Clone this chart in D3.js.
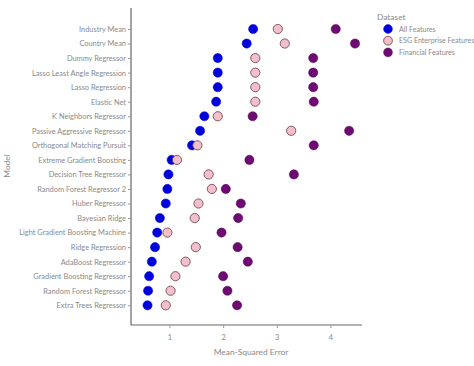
<!DOCTYPE html>
<html><head><meta charset="utf-8">
<script src="https://cdn.jsdelivr.net/npm/d3@7"></script>
<style>body{margin:0;background:#fff;} text{font-family:Lato, sans-serif;}</style>
</head><body><svg id="c" width="474" height="366"></svg>
<script>
const models = ["Industry Mean","Country Mean","Dummy Regressor","Lasso Least Angle Regression","Lasso Regression","Elastic Net","K Neighbors Regressor","Passive Aggressive Regressor","Orthogonal Matching Pursuit","Extreme Gradient Boosting","Decision Tree Regressor","Random Forest Regressor 2","Huber Regressor","Bayesian Ridge","Light Gradient Boosting Machine","Ridge Regression","AdaBoost Regressor","Gradient Boosting Regressor","Random Forest Regressor","Extra Trees Regressor"];
const allFeatures = [2.56,2.44,1.90,1.90,1.90,1.87,1.65,1.57,1.42,1.04,0.98,0.96,0.93,0.82,0.77,0.73,0.67,0.62,0.60,0.59];
const esgFeatures = [3.02,3.15,2.60,2.60,2.60,2.60,1.90,3.27,1.52,1.14,1.73,1.79,1.54,1.47,0.96,1.49,1.30,1.11,1.02,0.93];
const finFeatures = [4.10,4.46,3.68,3.68,3.68,3.69,2.55,4.35,3.69,2.49,3.32,2.05,2.33,2.28,1.97,2.27,2.46,2.00,2.08,2.26];
const seriesNames = ["All Features","ESG Enterprise Features","Financial Features"];
const xTicks = [1,2,3,4];

(function(){
const colors = ["#0000dd","#f2bfcc","#6e0a72"];
const strokes = ["#0000dd","#7a4a55","#4a0050"];
const txt = "#8a8a8a";
const svg = d3.select("#c");
const mLeft = 131, mRight = 362, mTop = 8, mBottom = 325;
const x = d3.scaleLinear().domain([0.2817, 4.59]).range([mLeft, mRight]);
const y = d3.scalePoint().domain(models).range([29, 305.3]);

const gx = svg.append("g").attr("transform",`translate(0,${mBottom})`)
  .call(d3.axisBottom(x).tickValues(xTicks).tickSize(3).tickSizeOuter(0).tickFormat(d3.format("d")));
const gy = svg.append("g").attr("transform",`translate(${mLeft},0)`)
  .call(d3.axisLeft(y).tickSize(3).tickPadding(2).tickSizeOuter(0));
gy.select(".domain").attr("d",`M0,${mTop}V${mBottom}`);
gx.select(".domain").attr("d",`M${mLeft},0H${mRight}`);
[gx,gy].forEach(g=>{
  g.selectAll(".domain").attr("stroke","#666").attr("stroke-width",1.2);
  g.selectAll(".tick line").attr("stroke","#999");
  g.selectAll(".tick text").attr("fill",txt).style("font-size","7.4px").style("font-family","Lato");
});
gx.selectAll(".tick text").attr("dy","1.15em");

const data = [allFeatures, esgFeatures, finFeatures];
data.forEach((vals,si)=>{
  svg.append("g").selectAll("circle").data(vals).join("circle")
    .attr("cx",d=>x(d)).attr("cy",(d,i)=>y(models[i])).attr("r",4.6)
    .attr("fill",colors[si]).attr("stroke",strokes[si]).attr("stroke-width",si===1?0.9:0.5);
});

svg.append("text").attr("x",251).attr("y",355).attr("text-anchor","middle")
  .attr("fill",txt).style("font-size","8.4px").text("Mean-Squared Error");
svg.append("text").attr("transform","translate(10,166) rotate(-90)").attr("text-anchor","middle")
  .attr("fill",txt).style("font-size","8.4px").text("Model");

const lg = svg.append("g");
lg.append("text").attr("x",377).attr("y",20).attr("fill",txt).style("font-size","8.4px").text("Dataset");
seriesNames.forEach((n,i)=>{
  const yy = 29 + i*11.7;
  lg.append("circle").attr("cx",388).attr("cy",yy).attr("r",4.4).attr("fill",colors[i]).attr("stroke",strokes[i]).attr("stroke-width",i===1?0.9:0.5);
  lg.append("text").attr("x",399).attr("y",yy+2.7).attr("fill",txt).style("font-size","7.1px").text(n);
});
})();
</script></body></html>
